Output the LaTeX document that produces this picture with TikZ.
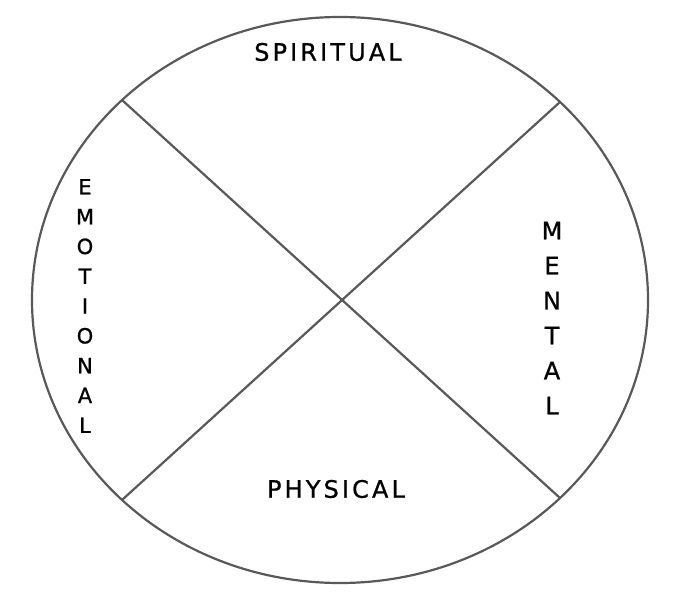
\documentclass[tikz,border=0pt]{standalone}
\usepackage{fontspec}
\setmainfont{DejaVu Sans}
\begin{document}
\begin{tikzpicture}[x=1pt,y=-1pt,
  ring/.style={draw=black!65, line width=2.2pt},
  divider/.style={draw=black!65, line width=2.2pt},
  hlbl/.style={inner sep=0pt, font=\addfontfeature{LetterSpace=13,FakeBold=0.8}\fontsize{24}{24}\selectfont},
  vlbl/.style={inner sep=0pt, align=center}]
\fill[white] (0,0) rectangle (685,604);
\useasboundingbox (0,0) rectangle (685,604);
\draw[ring] (340,300) ellipse [x radius=308pt, y radius=283pt];
\coordinate (ul) at (122,100);
\coordinate (lr) at (560,498);
\coordinate (ur) at (560,102);
\coordinate (ll) at (122,500);
\draw[divider] (ul) -- (lr);
\draw[divider] (ur) -- (ll);
\node[hlbl] (spiritual) at (328,52) {SPIRITUAL};
\node[hlbl] (physical) at (336,489) {PHYSICAL};
\node[vlbl, font=\addfontfeature{FakeBold=0.8}\fontsize{21}{29.8}\selectfont] (emotional) at (85,306) {E\\M\\O\\T\\I\\O\\N\\A\\L};
\node[vlbl, font=\addfontfeature{FakeBold=0.8}\fontsize{24}{35}\selectfont] (mental) at (552,318) {M\\E\\N\\T\\A\\L};
\end{tikzpicture}
\end{document}
